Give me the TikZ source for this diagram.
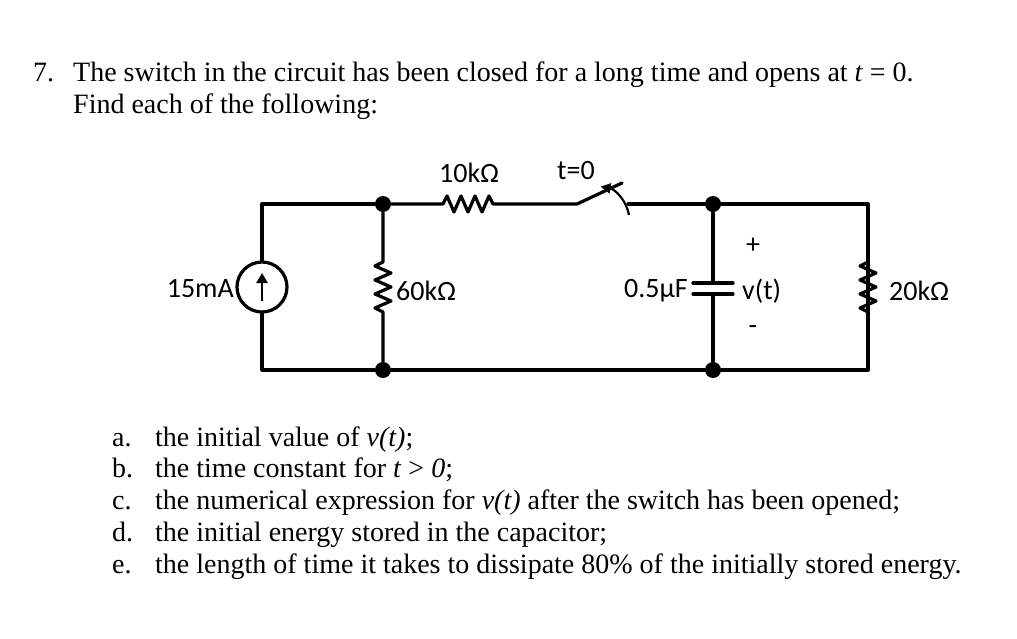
\documentclass[tikz,border=0pt]{standalone}
\usepackage{fontspec}
\setmainfont{Liberation Serif}
\newfontfamily\lab{Carlito}
\usetikzlibrary{arrows.meta}
\begin{document}
\begin{tikzpicture}[x=1pt,y=-1pt,
  wire/.style={line width=3.2pt,line cap=round,line join=round},
  dot/.style={circle,fill=black,inner sep=0pt,minimum size=16pt},
  lbl/.style={font=\lab\fontsize{28}{32}\selectfont,inner sep=0pt},
  txt/.style={font=\fontsize{28}{32}\selectfont,inner sep=0pt,anchor=base west}]
\useasboundingbox (0,0) rectangle (1017,639);
% text
\node[txt] (n7) at (33,82) {7.};
\node[txt] (l1) at (73,82) {The switch in the circuit has been closed for a long time and opens at \textit{t} = 0.};
\node[txt] (l2) at (73,114) {Find each of the following:};
\node[txt] (ia) at (112,446) {a.}; \node[txt] (ta) at (155,446) {the initial value of \textit{v(t)};};
\node[txt] (ib) at (112,477) {b.}; \node[txt] (tb) at (155,477) {the time constant for \textit{t} > \textit{0};};
\node[txt] (ic) at (112,509) {c.}; \node[txt] (tc) at (155,509) {the numerical expression for \textit{v(t)} after the switch has been opened;};
\node[txt] (id) at (112,541) {d.}; \node[txt] (td) at (155,541) {the initial energy stored in the capacitor;};
\node[txt] (ie) at (112,573) {e.}; \node[txt] (te) at (155,573) {the length of time it takes to dissipate 80\% of the initially stored energy.};
% nodes
\coordinate (TL) at (262,204); \coordinate (BL) at (262,370);
\node[dot] (A) at (383,204) {}; \node[dot] (B) at (383,370) {};
\node[dot] (C) at (713,204) {}; \node[dot] (D) at (713,370) {};
\coordinate (TR) at (868,204); \coordinate (BR) at (868,370);
\node[circle,draw,line width=3.2pt,minimum size=50pt,inner sep=0pt] (S) at (262,287) {};
\draw[line width=2.6pt,-{Triangle[length=10pt,width=11pt]}] (262,301) -- (262,273);
% wires
\draw[wire] (S.north) -- (TL) -- (A);
\draw[wire] (S.south) -- (BL) -- (B) -- (D) -- (BR) -- (TR) -- (C);
% 10k
\draw[wire] (A) -- (443,204) -- (447,196) -- (454,212) -- (461,196) -- (468,212) -- (475,196) -- (482,212) -- (489,196) -- (493,204) -- (577,204) -- (622,183);
\draw[wire] (628,204) -- (C);
\draw[line width=2.2pt,-{Triangle[length=10pt,width=10pt]}] (629,215) arc[start angle=-10,end angle=-80,radius=35];
% 60k
\draw[wire] (A) -- (383,262) -- (375,266) -- (391,273) -- (375,280) -- (391,287) -- (375,294) -- (391,301) -- (375,308) -- (383,312) -- (B);
% 20k
\draw[wire] (TR) -- (868,262) -- (860,266) -- (876,273) -- (860,280) -- (876,287) -- (860,294) -- (876,301) -- (860,308) -- (868,312) -- (BR);
% cap
\draw[wire] (C) -- (713,283); \draw[wire] (713,294) -- (D);
\draw[wire] (693,283) -- (733,283); \draw[wire] (693,294) -- (733,294);
% labels
\node[lbl,anchor=east] (l15) at (234,289) {15mA};
\node[lbl,anchor=west] (l60) at (396,291) {60kΩ};
\node[lbl] (l10) at (469,173) {10kΩ};
\node[lbl] (lt) at (576,171) {t=0};
\node[lbl,anchor=east] (lc) at (688,291) {0.5μF};
\node[lbl] (lp) at (753,246) {+};
\node[lbl,anchor=west] (lv) at (742,291) {v(t)};
\node[lbl] (lm) at (753,330) {-};
\node[lbl,anchor=west] (l20) at (889,291) {20kΩ};
\end{tikzpicture}
\end{document}
